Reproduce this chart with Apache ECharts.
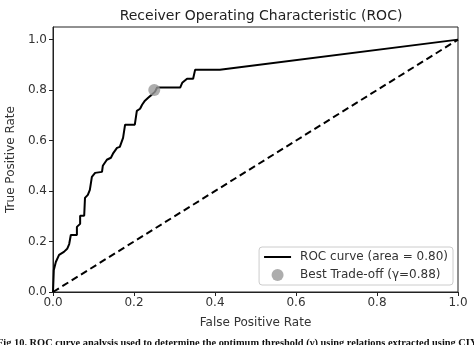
<!DOCTYPE html>
<html>
<head>
<meta charset="utf-8">
<script src="https://cdn.jsdelivr.net/npm/echarts@6/dist/echarts.min.js"></script>
<style>
html,body{margin:0;padding:0;background:#fff;}
#c{width:474px;height:345px;}
</style>
</head>
<body>
<div id="c"></div>
<script>
// ROC curve points (False Positive Rate, True Positive Rate)
var rocFpr = [0, 0.002, 0.007, 0.015, 0.027, 0.035, 0.040, 0.044, 0.059, 0.059, 0.067, 0.067, 0.077, 0.079, 0.086, 0.091, 0.096, 0.104, 0.121, 0.123, 0.133, 0.143, 0.148, 0.158, 0.165, 0.173, 0.178, 0.202, 0.207, 0.215, 0.220, 0.227, 0.235, 0.244, 0.252, 0.257, 0.314, 0.319, 0.331, 0.346, 0.351, 0.412, 1.0];
var rocTpr = [0, 0.087, 0.119, 0.147, 0.159, 0.171, 0.190, 0.226, 0.226, 0.258, 0.270, 0.302, 0.302, 0.373, 0.385, 0.405, 0.456, 0.472, 0.476, 0.500, 0.524, 0.532, 0.548, 0.571, 0.575, 0.611, 0.663, 0.663, 0.718, 0.726, 0.742, 0.758, 0.770, 0.782, 0.794, 0.810, 0.810, 0.829, 0.845, 0.845, 0.881, 0.881, 1.0];
var chanceFpr = [0, 1];
var chanceTpr = [0, 1];
var bestPoint = [0.25, 0.80];
var xTicks = [0, 0.2, 0.4, 0.6, 0.8, 1.0];
var yTicks = [0, 0.2, 0.4, 0.6, 0.8, 1.0];
var rocName = 'ROC curve (area = 0.80)';
var bestName = 'Best Trade-off (\u03b3=0.88)';
var titleText = 'Receiver Operating Characteristic (ROC)';
var captionText = 'Fig 10. ROC curve analysis used to determine the optimum threshold (\u03b3) using relations extracted using CIY';

function zip(a, b) { return a.map(function (v, i) { return [v, b[i]]; }); }

var font = 'DejaVu Sans';
var chart = echarts.init(document.getElementById('c'), null, {renderer: 'canvas'});
chart.setOption({
  animation: false,
  backgroundColor: '#fff',
  title: {
    text: titleText, left: 256, top: 4, textAlign: 'center',
    textStyle: {fontFamily: font, fontSize: 14, fontWeight: 'normal', color: '#222'}
  },
  grid: {left: 53, right: 16, top: 27, bottom: 53, outerBoundsMode: 'none', containLabel: false,
    show: true, borderColor: '#222', borderWidth: 1, backgroundColor: 'transparent'},
  xAxis: {
    type: 'value', min: 0, max: 1, interval: 0.2,
    name: 'False Positive Rate', nameLocation: 'middle', nameGap: 25,
    nameTextStyle: {fontFamily: font, fontSize: 12, color: '#333'},
    axisLine: {show: true, lineStyle: {color: '#222'}},
    axisTick: {show: true, length: 4, lineStyle: {color: '#222'}},
    axisLabel: {fontFamily: font, fontSize: 12, color: '#333', margin: 5,
      formatter: function (v) { return v.toFixed(1); }},
    splitLine: {show: false}
  },
  yAxis: {
    type: 'value', min: 0, max: 1.05, interval: 0.2,
    name: 'True Positive Rate', nameLocation: 'middle', nameGap: 34,
    nameTextStyle: {fontFamily: font, fontSize: 12, color: '#333'},
    axisLine: {show: true, lineStyle: {color: '#222'}},
    axisTick: {show: true, length: 4, lineStyle: {color: '#222'}, customValues: yTicks},
    axisLabel: {fontFamily: font, fontSize: 12, color: '#333', margin: 6, customValues: yTicks,
      formatter: function (v) { return v.toFixed(1); }},
    splitLine: {show: false}
  },
  legend: {
    right: 21, bottom: 60, orient: 'vertical',
    data: [
      {name: rocName, itemStyle: {color: 'transparent', borderColor: 'transparent', borderWidth: 0}},
      {name: bestName, icon: 'circle'}
    ],
    itemWidth: 27, itemHeight: 12, itemGap: 6,
    padding: [4, 5, 4, 4],
    borderColor: '#ccc', borderWidth: 1, borderRadius: 3, backgroundColor: '#fff',
    textStyle: {fontFamily: font, fontSize: 12, color: '#333', padding: [0, 0, 0, 4]}
  },
  graphic: [{
    type: 'text', left: -3, top: 338, silent: true,
    style: {text: captionText, font: 'bold 10.4px "Liberation Serif"', fill: '#111'}
  }],
  series: [
    {
      name: 'chance', type: 'line', data: zip(chanceFpr, chanceTpr), symbol: 'none',
      lineStyle: {color: '#000', width: 2, type: [7, 4]}, z: 2
    },
    {
      name: rocName, type: 'line', data: zip(rocFpr, rocTpr), symbol: 'none',
      lineStyle: {color: '#000', width: 2}, itemStyle: {color: '#000'}, z: 3
    },
    {
      name: bestName, type: 'scatter', data: [bestPoint], symbol: 'circle', symbolSize: 12,
      itemStyle: {color: '#999'}, z: 4
    }
  ]
});
</script>
</body>
</html>
